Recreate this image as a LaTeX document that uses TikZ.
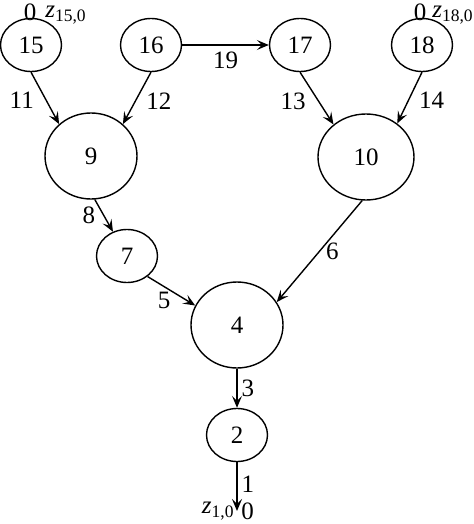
\documentclass[tikz,border=0pt]{standalone}
\usepackage{fontspec}
\setmainfont{Liberation Serif}
\usetikzlibrary{arrows.meta,shapes.geometric,positioning}

\tikzset{
  vert/.style={draw, ellipse, line width=0.7pt, inner sep=0pt, minimum width=30.5pt, minimum height=26.5pt},
  bigvert/.style={vert, minimum width=46pt, minimum height=43pt},
  flow/.style={-{Stealth[length=6pt,width=5pt,inset=2.5pt]}, line width=0.7pt},
  lbl/.style={inner sep=1pt}
}

\begin{document}
\begin{tikzpicture}[x=0.5pt, y=-0.5pt, font=\fontsize{12.5}{14}\selectfont]
        \useasboundingbox (0,0) rectangle (474,524);
        % upper row
        \node[vert] (n15) at (31,45) {15};
        \node[vert] (n16) at (151,45) {16};
        \node[vert] (n17) at (300,45) {17};
        \node[vert] (n18) at (422,45) {18};
        % middle
        \node[bigvert] (n9) at (91,156) {9};
        \node[bigvert, minimum width=48pt] (n10) at (366,157) {10};
        \node[vert] (n7) at (127,256) {7};
        \node[bigvert] (n4) at (237,325) {4};
        \node[vert] (n2) at (237,435) {2};
        \coordinate (out) at (237,511);

        % boundary values
        \node[lbl] (b15) at (30,12) {0};
        \node[lbl] (z15) at (66,15) {\textit{z}\textsubscript{15,0}};
        \node[lbl] (b18) at (420,12) {0};
        \node[lbl] (z18) at (453,15) {\textit{z}\textsubscript{18,0}};

        \draw[flow] (n15.south) -- node[lbl, left=5pt, pos=0.55] {11} (n9.135);
        \draw[flow] (n16.south) -- node[lbl, right=4pt, pos=0.55] {12} (n9.45);
        \draw[flow] (n16.east) -- node[lbl, below=2pt] {19} (n17.west);
        \draw[flow] (n17.south) -- node[lbl, left=5pt, pos=0.55] {13} (n10.135);
        \draw[flow] (n18.south) -- node[lbl, right=4pt, pos=0.55] {14} (n10.47);
        \draw[flow] (n9.-85) -- node[lbl, left=3pt] {8} (n7.120);
        \draw[flow] (n7.-45) -- node[lbl, below left=0pt and -2pt, pos=0.45] {5} (n4.155);
        \draw[flow] (n10.-95) -- node[lbl, right=2pt, pos=0.5] {6} (n4.30);
        \draw[flow] (n4.south) -- node[lbl, right=1pt] {3} (n2.north);
        \draw[flow] (n2.south) -- node[lbl, right=1pt, pos=0.45] {1} (out);
        \node[lbl, left=0pt of out] (z1) {\textit{z}\textsubscript{1,0}};
        \node[lbl, right=1pt of out] (b1) {0};
    \end{tikzpicture}
\end{document}
